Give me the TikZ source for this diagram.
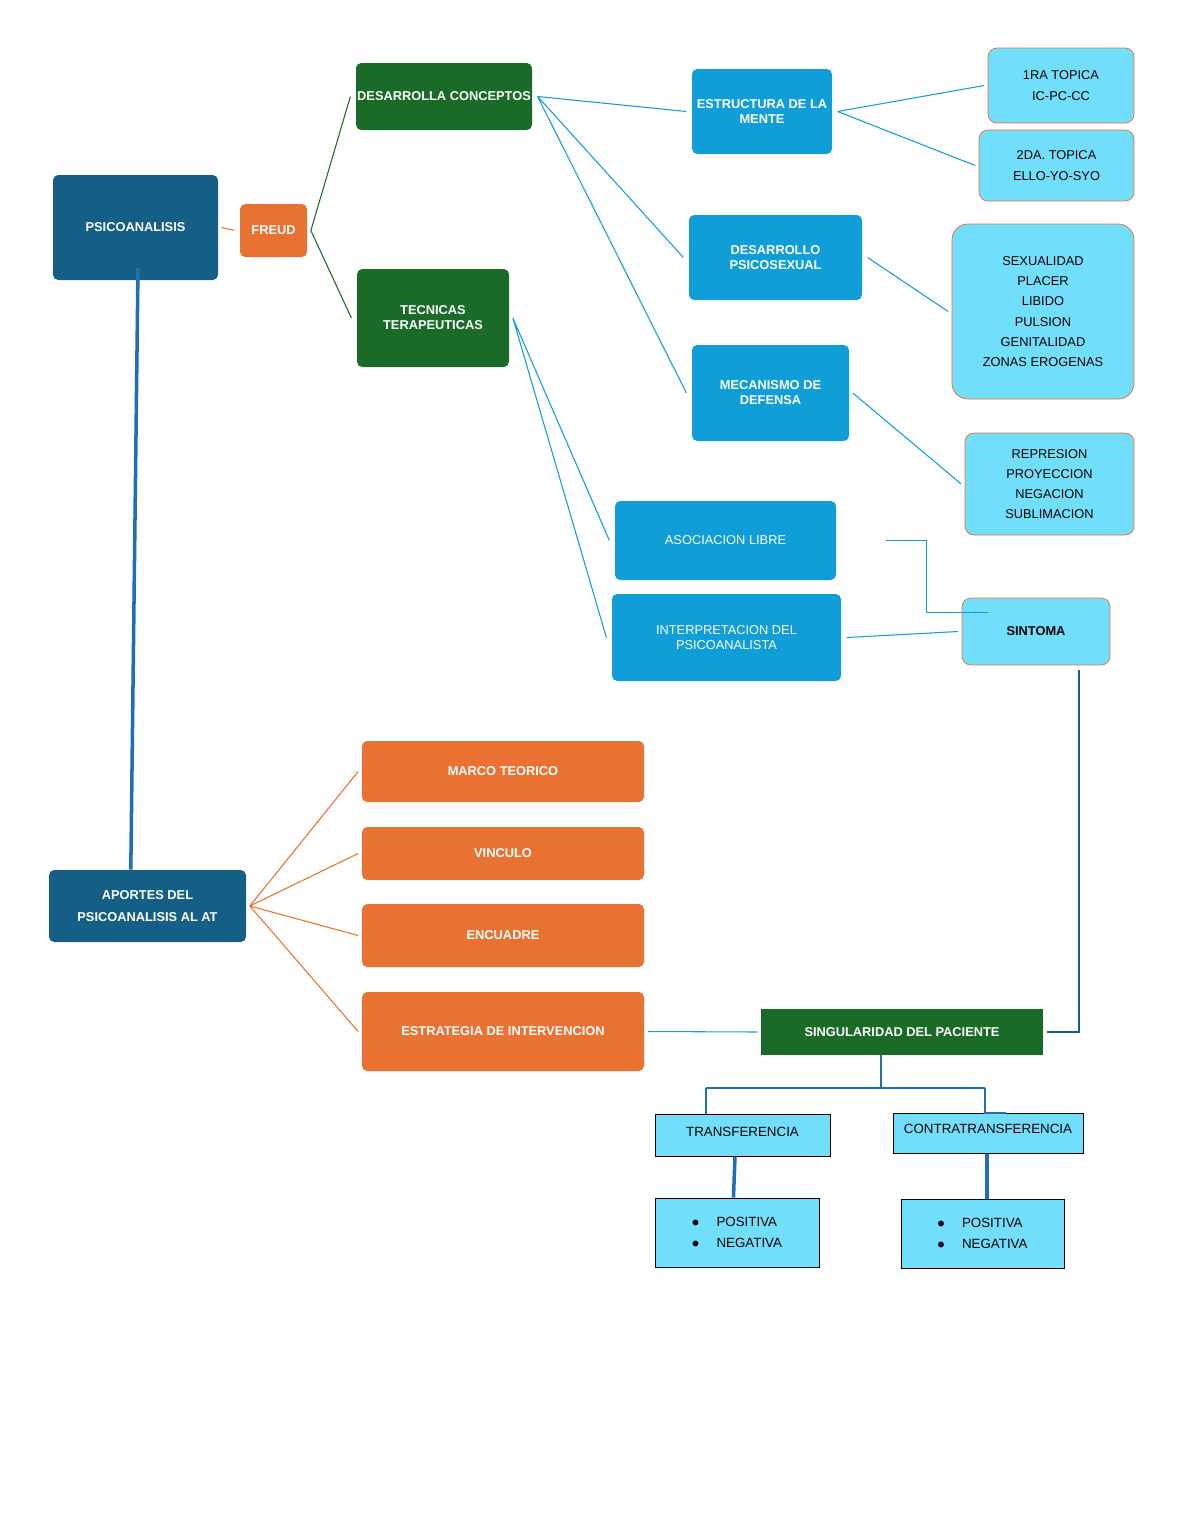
\documentclass[tikz,border=0pt]{standalone}
\usepackage{fontspec}
\setmainfont{Liberation Sans}
\usepackage{tikz}
\usetikzlibrary{positioning}
\definecolor{darkb}{HTML}{155E85}
\definecolor{greenb}{HTML}{1A6B27}
\definecolor{orangeb}{HTML}{E97132}
\definecolor{blueb}{HTML}{109ED8}
\definecolor{cyanb}{HTML}{71DFFB}
\definecolor{lineb}{HTML}{1F6FB5}
\begin{document}
\begin{tikzpicture}[x=0.02cm,y=-0.02cm,font=\fontsize{7.3}{10}\selectfont]
\tikzstyle{box} = [rectangle, text=white, font=\fontsize{7.3}{8.5}\selectfont\bfseries, align=center, rounded corners=3pt, inner sep=0pt]
\tikzstyle{dark} = [box, fill=darkb]
\tikzstyle{green} = [box, fill=greenb]
\tikzstyle{orange} = [box, fill=orangeb]
\tikzstyle{blue} = [box, fill=blueb]
\tikzstyle{cyan} = [rectangle, draw=orangeb, fill=cyanb, align=center, rounded corners=5pt, inner sep=0pt, font=\fontsize{7.3}{11.5}\selectfont]
\tikzstyle{flat} = [rectangle, draw=black, fill=cyanb, inner sep=0pt, font=\fontsize{7.6}{12}\selectfont]
\tikzstyle{wire} = [draw=blueb, line width=0.6pt]
\useasboundingbox (0,0) rectangle (1200,1529);
\fill[white] (0,0) rectangle (1200,1529);
\node[dark, minimum width=165*0.02cm, minimum height=105*0.02cm] (PS) at (135.5,227.5) {PSICOANALISIS};
\node[orange, minimum width=67*0.02cm, minimum height=53*0.02cm] (FR) at (273.5,230.5) {FREUD};
\node[green, minimum width=176*0.02cm, minimum height=67*0.02cm] (DC) at (444,96.5) {DESARROLLA CONCEPTOS};
\node[green, minimum width=152*0.02cm, minimum height=98*0.02cm] (TT) at (433,318) {TECNICAS\\TERAPEUTICAS};
\node[blue, minimum width=140*0.02cm, minimum height=85*0.02cm] (EM) at (762,111.5) {ESTRUCTURA DE LA\\MENTE};
\node[blue, minimum width=173*0.02cm, minimum height=85*0.02cm] (DP) at (775.5,257.5) {DESARROLLO\\PSICOSEXUAL};
\node[blue, minimum width=157*0.02cm, minimum height=96*0.02cm] (MD) at (770.5,393) {MECANISMO DE\\DEFENSA};
\node[blue, font=\fontsize{7.3}{8.5}\selectfont, minimum width=221*0.02cm, minimum height=79*0.02cm] (AL) at (725.5,540.5) {ASOCIACION LIBRE};
\node[blue, font=\fontsize{7.3}{8.5}\selectfont, minimum width=229*0.02cm, minimum height=87*0.02cm] (IP) at (726.5,637.5) {INTERPRETACION DEL\\PSICOANALISTA};
\node[cyan, minimum width=146*0.02cm, minimum height=75*0.02cm] (T1) at (1061,85.5) {1RA TOPICA\\IC-PC-CC};
\node[cyan, minimum width=155*0.02cm, minimum height=71*0.02cm] (T2) at (1056.5,165.5) {2DA. TOPICA\\ELLO-YO-SYO};
\node[cyan, rounded corners=9pt, minimum width=182*0.02cm, minimum height=175*0.02cm] (SX) at (1043,311.5) {SEXUALIDAD\\PLACER\\LIBIDO\\PULSION\\GENITALIDAD\\ZONAS EROGENAS};
\node[cyan, minimum width=169*0.02cm, minimum height=102*0.02cm] (RP) at (1049.5,484) {REPRESION\\PROYECCION\\NEGACION\\SUBLIMACION};
\path (RP.north west) ++(0,0) coordinate (rpnw);
\node[cyan, font=\fontsize{7.3}{9}\selectfont\bfseries, minimum width=148*0.02cm, minimum height=67*0.02cm] (SI) at (1036,631.5) {SINTOMA};
\node[orange, minimum width=282*0.02cm, minimum height=61*0.02cm] (MT) at (503,771.5) {MARCO TEORICO};
\node[orange, minimum width=282*0.02cm, minimum height=53*0.02cm] (VI) at (503,853.5) {VINCULO};
\node[orange, minimum width=282*0.02cm, minimum height=63*0.02cm] (EN) at (503,935.5) {ENCUADRE};
\node[orange, minimum width=282*0.02cm, minimum height=79*0.02cm] (EI) at (503,1031.5) {ESTRATEGIA DE INTERVENCION};
\node[dark, font=\fontsize{7.3}{13}\selectfont\bfseries, minimum width=197*0.02cm, minimum height=72*0.02cm] (AP) at (147.5,906) {APORTES DEL\\PSICOANALISIS AL AT};
\node[green, rounded corners=0pt, minimum width=282*0.02cm, minimum height=46*0.02cm] (SP) at (902,1032) {SINGULARIDAD DEL PACIENTE};
\node[flat, minimum width=175*0.02cm, minimum height=42*0.02cm, anchor=north] (TR) at (742.5,1114) {\raisebox{4pt}{TRANSFERENCIA}};
\node[flat, minimum width=190*0.02cm, minimum height=40*0.02cm, anchor=north] (CT) at (988,1113) {\raisebox{5pt}{CONTRATRANSFERENCIA}};
\node[flat, align=left, minimum width=164*0.02cm, minimum height=69*0.02cm] (L1) at (737,1232.5) {$\bullet$\quad\ POSITIVA\\$\bullet$\quad\ NEGATIVA};
\node[flat, align=left, minimum width=163*0.02cm, minimum height=69*0.02cm] (L2) at (982.5,1233.5) {$\bullet$\quad\ POSITIVA\\$\bullet$\quad\ NEGATIVA};
% conectores
\draw[orangeb, line width=0.6pt] (PS.east) ++(3,0) -- ([xshift=-3]FR.west);
\draw[greenb, line width=0.6pt] ([xshift=2]FR.east) -- ([xshift=-3]DC.west) ([xshift=2]FR.east) -- ([xshift=-3]TT.west);
\path[wire] ([xshift=3]DC.east) -- ([xshift=-3]EM.west) ([xshift=3]DC.east) -- ([xshift=-3]DP.west) ([xshift=3]DC.east) -- ([xshift=-3]MD.west);
\path[wire] ([xshift=3]EM.east) -- ([xshift=-2]T1.west) ([xshift=3]EM.east) -- ([xshift=-2]T2.west);
\path[wire] ([xshift=3]DP.east) -- ([xshift=-2]SX.west);
\path[wire] ([xshift=2]MD.east) -- ([xshift=-2]RP.west);
\path[wire] ([xshift=2]TT.east) -- ([xshift=-3]AL.west) ([xshift=2]TT.east) -- ([xshift=-3]IP.west);
\coordinate (ST) at (988,612);
\path[wire, line width=0.4pt] ([xshift=28]AL.east) -| (926,612) -- (ST);
\path[wire] ([xshift=3]IP.east) -- ([xshift=-2]SI.west);
\draw[darkb, line width=1.2pt] (1079,670) |- ([xshift=2]SP.east);
\draw[lineb, line width=2pt] (138,268) -- ([xshift=-9.5]AP.north);
\draw[orangeb, line width=0.6pt] ([xshift=2]AP.east) -- ([xshift=-2]MT.west) ([xshift=2]AP.east) -- ([xshift=-2]VI.west) ([xshift=2]AP.east) -- ([xshift=-2]EN.west) ([xshift=2]AP.east) -- ([xshift=-2]EI.west);
\path[wire] ([xshift=2]EI.east) -- ([xshift=-2]SP.west);
\coordinate (split) at (881,1088);
\draw[lineb, line width=0.8pt] (SP.south -| split) -- (split) (706,1088) -- (985,1088) (706,1088) -- (706,1114) (985,1088) -- (985,1113) -- (1006,1113);
\draw[lineb, line width=2pt] (TR.south -| L1.north) ++(-2,0) -- ([xshift=-2]L1.north);
\draw[lineb, line width=2pt] (CT.south -| 987,0) -- (L2.north -| 987,0);
\end{tikzpicture}
\end{document}
